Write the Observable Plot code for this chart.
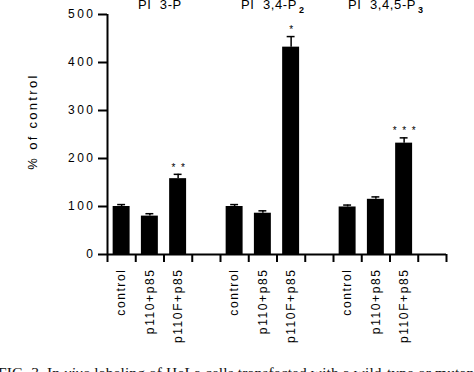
<!DOCTYPE html>
<html>
<head>
<meta charset="utf-8">
<script src="https://cdn.jsdelivr.net/npm/d3@7"></script>
<script src="https://cdn.jsdelivr.net/npm/@observablehq/plot@0.6"></script>
<style>
  html, body { margin: 0; padding: 0; background: #fff; overflow: hidden; }
  #wrap { width: 474px; height: 372px; overflow: hidden; position: relative; }
  #chart svg { display: block; font-family: "Liberation Sans", Arial, sans-serif; }
  #caption {
    font-family: "Liberation Serif", "Times New Roman", serif;
    font-size: 15.5px; line-height: 18px; white-space: nowrap;
    margin-left: -2px; margin-top: 4px; color: #111; letter-spacing: 0.1px;
  }
  .ytl text { letter-spacing: 2.5px; }
  .xl text { letter-spacing: 1.6px; }
  .ttl text { letter-spacing: 0.6px; white-space: pre; }
  .ylab text { letter-spacing: 2.3px; }
  .stars text { white-space: pre; }
</style>
</head>
<body>
<div id="wrap">
  <div id="chart"></div>
  <div id="caption">FIG. 3. In <i>vivo</i> labeling of HeLa cells transfected with a wild-type or mutant</div>
</div>
<script>
const categories = ["control", "p110+p85", "p110F+p85"];
const groups = ["PI  3-P", "PI  3,4-P_2", "PI  3,4,5-P_3"];
const means = [[100, 80, 158], [100, 86, 432], [99, 115, 232]];
const errors = [[4, 5, 9], [4, 5, 22], [4, 5, 11]];
const stars = [["", "", "*  *"], ["", "", "*"], ["", "", "*  *  *"]];
const yTicks = [0, 100, 200, 300, 400, 500];

const slotsPerGroup = categories.length + 1;
const rows = [];
groups.forEach((g, gi) => categories.forEach((c, ci) => {
  rows.push({group: g, cat: c, slot: gi * slotsPerGroup + ci, value: means[gi][ci], err: errors[gi][ci], star: stars[gi][ci]});
}));
const titleRows = groups.map((g, gi) => ({title: g, center: gi * slotsPerGroup + categories.length / 2}));
const nSlots = groups.length * slotsPerGroup;

const chart = Plot.plot({
  width: 474, height: 360,
  marginLeft: 107, marginRight: 28, marginTop: 14, marginBottom: 106,
  x: {domain: [0, nSlots], axis: null},
  y: {domain: [0, 500], axis: null},
  marks: [
    Plot.rectY(rows, {x1: d => d.slot + 0.2, x2: d => d.slot + 0.8, y: "value", fill: "black"}),
    Plot.ruleX(rows, {x: d => d.slot + 0.5, y1: "value", y2: d => d.value + d.err, stroke: "black", strokeWidth: 1.5}),
    Plot.ruleY(rows, {y: d => d.value + d.err, x1: d => d.slot + 0.36, x2: d => d.slot + 0.64, stroke: "black", strokeWidth: 1.5}),
    Plot.ruleY([0], {x1: 0, x2: nSlots, stroke: "black", strokeWidth: 2}),
    Plot.ruleX([0], {y1: 0, y2: 500, stroke: "black", strokeWidth: 2}),
    Plot.axisY({ticks: yTicks, tickSize: 9, tickPadding: 3, fontSize: 12, strokeWidth: 2, label: null, className: "ytl"}),
    Plot.axisX({ticks: d3.range(nSlots + 1), tickSize: 8, tickFormat: () => "", strokeWidth: 2, label: null}),
    Plot.text(rows, {x: d => d.slot + 0.5, y: 0, text: "cat", rotate: -90, textAnchor: "end", dy: 14, fontSize: 12, fill: "black", className: "xl"}),
    Plot.text(rows.filter(d => d.star), {x: d => d.slot + 0.5, y: d => d.value + d.err, text: "star", dy: -7, fontSize: 10, fill: "black", className: "stars"}),
    Plot.text(titleRows, {x: "center", y: 500, text: "title", dx: 10, dy: -6, lineAnchor: "bottom", fontSize: 13, fill: "black", className: "ttl"}),
    Plot.text(["% of control"], {frameAnchor: "left", textAnchor: "middle", rotate: -90, dx: -75, dy: -13, fontSize: 13, fill: "black", className: "ylab"})
  ]
});
document.getElementById("chart").appendChild(chart);

// render subscripts in titles
d3.select(chart).selectAll(".ttl text").each(function() {
  const el = d3.select(this);
  const t = el.text();
  const parts = t.split("_");
  if (parts.length === 2) {
    el.text(null);
    el.append("tspan").text(parts[0]);
    el.append("tspan").attr("dy", "0.45em").attr("dx", "2").attr("font-size", "9px").attr("font-weight", "bold").text(parts[1]);
  }
});
</script>
</body>
</html>
